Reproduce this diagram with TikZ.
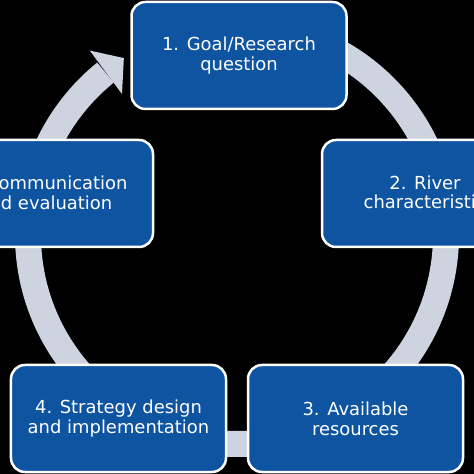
\documentclass[tikz,border=0pt]{standalone}
\usepackage{fontspec}
\setmainfont{DejaVu Sans}
\usetikzlibrary{calc}
\definecolor{boxblue}{RGB}{14,84,160}
\definecolor{ringgray}{RGB}{206,211,224}
\begin{document}
\begin{tikzpicture}[x=1bp,y=1bp,
  stage/.style={draw=white, line width=2.5bp, fill=boxblue, rounded corners=14bp,
    minimum width=215bp, minimum height=107bp, inner sep=0pt, text=white,
    font=\fontsize{18}{20}\selectfont, align=center},
  lbl/.style={text=white, font=\fontsize{18}{20}\selectfont, inner sep=0pt},
  ring/.style={draw=ringgray, line width=26bp},
]
\fill[black] (0,0) rectangle (474,474);
\useasboundingbox (0,0) rectangle (474,474);
\clip (0,0) rectangle (474,474);
\coordinate (C) at (237,239);
% ring with arrow head
\draw[ring] ($(C)+(129:209)$) arc[start angle=129, end angle=450, radius=209];
\fill[ringgray] ($(C)+(129.2:182)$) -- ($(C)+(128.6:236)$) -- ($(C)+(122.6:210)$) -- cycle;
% stages
\node[stage] (b1) at (239,418.5) {1. Goal/Research\\question};
\node[stage] (b2) at (429.5,280.5) {};
\node[stage] (b3) at (355.5,55.5) {3. Available\\resources};
\node[stage] (b4) at (118.5,55.5) {4. Strategy design\\and implementation};
\node[stage] (b5) at (45.5,280.5) {};
% partly visible texts
\node[lbl, anchor=base] (t2a) at (425,284) {2. River};
\node[lbl, anchor=base west] (t2b) at (363.5,265) {characteristi};
\node[lbl, anchor=base west] (t5a) at (-1.5,284) {ommunication};
\node[lbl, anchor=base west] (t5b) at (0.7,264) {d evaluation};
\end{tikzpicture}
\end{document}
